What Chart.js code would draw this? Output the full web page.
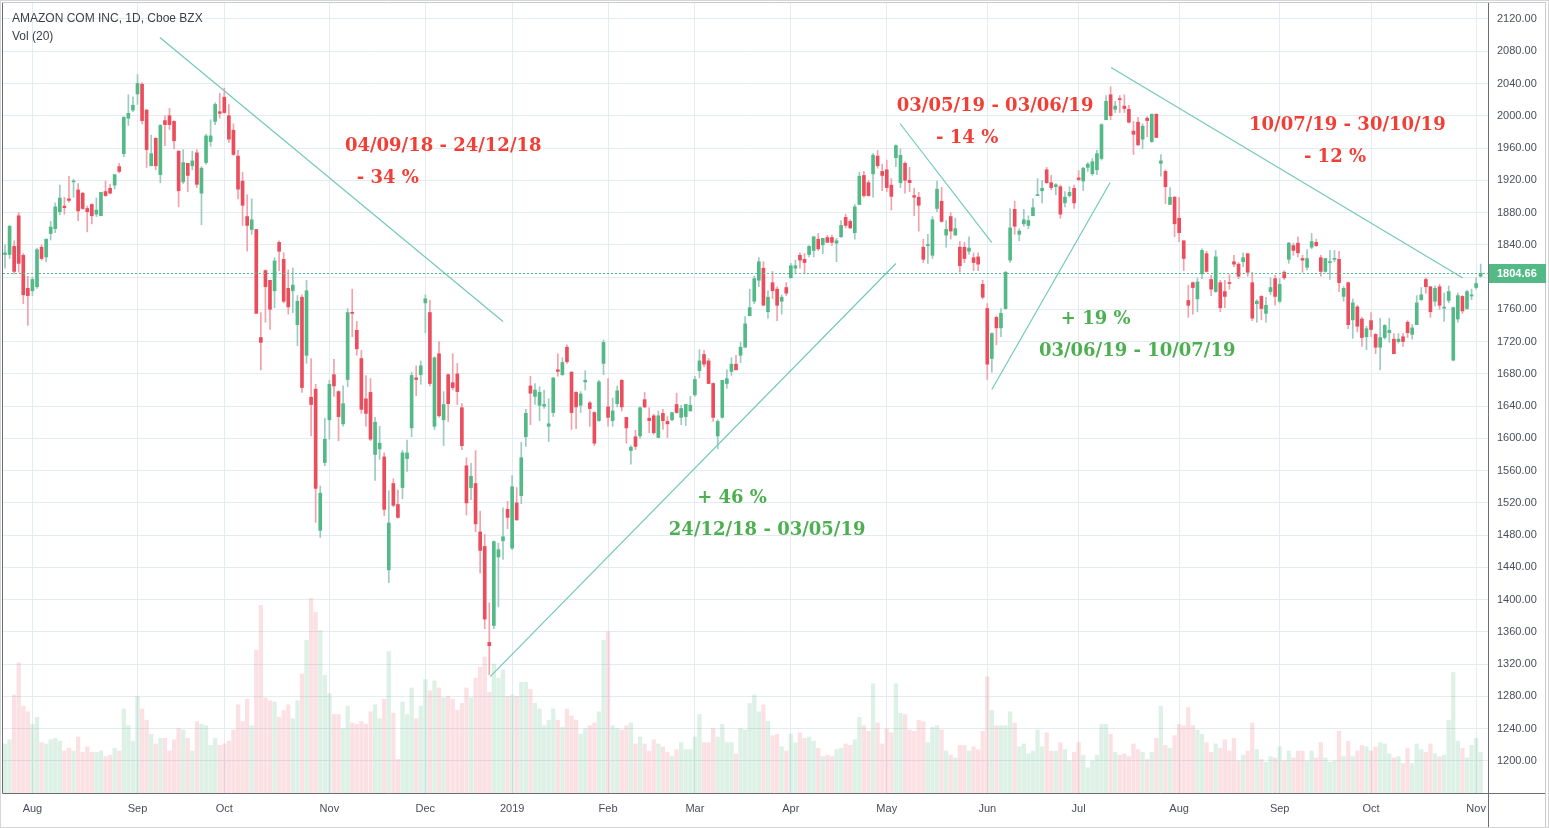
<!DOCTYPE html>
<html><head><meta charset="utf-8">
<script src="https://cdn.jsdelivr.net/npm/chart.js@4.4.1/dist/chart.umd.min.js"></script>
<style>html,body{margin:0;padding:0;background:#fff;}#wrap{position:relative;width:1549px;height:828px;}</style>
</head><body><div id="wrap"><canvas id="c" width="1549" height="828"></canvas></div>
<script>
// Daily candles 24 Jul 2018 .. 4 Nov 2019 (index 0 = first bar)
const open=[
1828,1828,1838,1876,1827,1786,1783,1788,1837,1825,
1854,1860,1881,1888,1897,1918,1908,1904,1885,1890,
1878,1876,1906,1910,1914,1937,1953,1997,2007,2027,
2039,2007,1938,1972,1927,1994,2000,1993,1956,1918,
1941,1938,1954,1904,1942,1968,1993,2005,2023,2000,
1982,1950,1919,1875,1859,1859,1725,1808,1796,1783,
1843,1822,1786,1783,1741,1775,1703,1651,1661,1486,
1570,1623,1679,1658,1618,1673,1756,1734,1699,1649,
1657,1580,1587,1577,1437,1544,1518,1539,1575,1613,
1675,1679,1768,1756,1615,1705,1623,1679,1669,1680,
1638,1566,1539,1544,1484,1466,1347,1368,1453,1473,
1512,1464,1520,1529,1602,1665,1652,1641,1640,1615,
1632,1685,1679,1713,1682,1657,1641,1670,1644,1632,
1622,1693,1639,1622,1643,1672,1626,1585,1602,1603,
1648,1625,1628,1601,1631,1621,1623,1642,1626,1627,
1634,1654,1684,1704,1696,1668,1603,1626,1668,1683,
1692,1703,1713,1752,1770,1796,1811,1757,1793,1785,
1770,1787,1799,1811,1827,1822,1828,1833,1847,1840,
1849,1849,1842,1850,1874,1869,1855,1890,1926,1917,
1928,1950,1931,1933,1914,1948,1917,1941,1920,1901,
1899,1837,1839,1827,1885,1894,1852,1875,1852,1837,
1837,1832,1824,1825,1791,1761,1699,1750,1737,1761,
1821,1884,1853,1866,1864,1876,1901,1907,1933,1917,
1912,1912,1892,1901,1910,1923,1919,1936,1928,1933,
1947,1995,2026,2008,2021,2012,2008,1981,1992,1971,
1997,1968,2002,1941,1931,1890,1899,1873,1845,1771,
1793,1773,1804,1829,1797,1782,1793,1782,1793,1819,
1816,1819,1829,1793,1767,1776,1755,1782,1798,1770,
1806,1822,1839,1842,1823,1812,1837,1843,1824,1807,
1818,1822,1822,1776,1793,1747,1763,1748,1726,1746,
1729,1713,1725,1731,1723,1720,1726,1744,1729,1741,
1772,1797,1788,1770,1788,1761.5,1771,1697,1748,1776,
1761,1776.5,1787,1801];
const high=[
1840,1864,1845,1880,1829,1801,1800,1836,1840,1847,
1869,1892,1914,1899,1925,1921,1916,1905,1888,1891,
1898,1905,1919,1915,1927,1941,1999,2026,2023,2051,
2041,2008,1976,1973,1989,2000,2009,1994,1957,1958,
1941,1956,1958,1937,1977,1995,2016,2028,2034,2014,
1990,1957,1930,1902,1897,1859,1756,1809,1796,1824,
1845,1830,1809,1811,1777,1778,1796,1699,1667,1541,
1625,1672,1698,1659,1665,1761,1785,1745,1709,1678,
1674,1626,1615,1582,1535,1550,1536,1585,1598,1682,
1690,1696,1778,1771,1701,1720,1658,1680,1705,1693,
1643,1576,1569,1585,1510,1481,1396,1473,1470,1514,
1522,1554,1539,1595,1636,1677,1668,1664,1660,1649,
1675,1705,1700,1716,1683,1658,1658,1684,1646,1633,
1672,1722,1674,1650,1665,1673,1626,1591,1610,1639,
1657,1638,1630,1634,1636,1627,1632,1656,1641,1642,
1652,1677,1710,1709,1699,1669,1623,1672,1685,1700,
1703,1719,1751,1785,1801,1824,1819,1783,1807,1788,
1778,1793,1817,1821,1830,1829,1839,1850,1854,1848,
1852,1852,1848,1870,1878,1871,1890,1930,1931,1920,
1953,1957,1940,1945,1922,1964,1959,1943,1936,1910,
1905,1847,1853,1875,1919,1911,1870,1880,1873,1844,
1843,1850,1830,1830,1796,1767,1731,1752,1761,1807,
1885,1894,1860,1884,1876,1897,1922,1920,1936,1926,
1916,1914,1906,1912,1914,1932,1936,1942,1947,1957,
1990,2025,2036,2018,2025,2026,2013,1993,1998,1990,
1999,2002,2002,1952,1933,1911,1900,1899,1845,1790,
1794,1799,1835,1832,1802,1833,1796,1796,1803,1827,
1818,1830,1829,1806,1772,1777,1775,1799,1802,1798,
1808,1843,1842,1850,1827,1834,1854,1847,1827,1823,
1833,1833,1832,1788,1794,1773,1765,1750,1739,1756,
1730,1749,1741,1749,1730,1730,1730,1746,1741,1777,
1787,1799,1788,1789,1791,1780,1789,1763,1780,1777,
1784,1785,1799,1816];
const low=[
1811,1823,1804,1806,1767,1740,1777,1786,1821,1819,
1846,1855,1877,1878,1893,1899,1870,1884,1856,1866,
1875,1876,1900,1903,1909,1929,1949,1988,2005,2014,
1990,1936,1938,1933,1917,1963,1983,1959,1887,1916,
1906,1933,1911,1865,1940,1962,1989,1997,2003,1967,
1951,1897,1864,1832,1853,1755,1685,1744,1735,1762,
1808,1768,1754,1756,1715,1657,1693,1603,1496,1477,
1566,1599,1652,1597,1615,1664,1726,1703,1631,1615,
1597,1548,1574,1504,1421,1515,1501,1525,1559,1602,
1653,1667,1731,1665,1611,1626,1591,1621,1660,1642,
1586,1505,1524,1484,1433,1364,1307,1364,1391,1450,
1488,1462,1498,1519,1590,1617,1642,1622,1637,1596,
1627,1677,1678,1693,1611,1612,1632,1660,1615,1591,
1621,1679,1615,1615,1639,1634,1594,1568,1586,1600,
1638,1607,1605,1601,1611,1601,1622,1631,1617,1616,
1634,1652,1675,1689,1668,1621,1587,1625,1662,1678,
1685,1694,1713,1752,1767,1788,1765,1749,1773,1746,
1754,1777,1799,1804,1811,1804,1825,1825,1833,1829,
1843,1839,1819,1849,1861,1860,1847,1890,1899,1900,
1899,1935,1907,1906,1883,1937,1911,1904,1906,1876,
1857,1818,1817,1823,1881,1868,1837,1847,1852,1806,
1818,1828,1808,1808,1773,1673,1682,1716,1726,1760,
1818,1853,1845,1863,1860,1876,1901,1892,1916,1908,
1902,1873,1887,1899,1885,1919,1907,1931,1926,1927,
1945,1995,1995,2004,2004,2004,1991,1952,1963,1959,
1974,1967,1973,1925,1891,1890,1850,1844,1808,1750,
1754,1757,1798,1806,1777,1781,1757,1762,1785,1813,
1798,1813,1801,1746,1744,1747,1744,1778,1765,1768,
1797,1817,1827,1825,1806,1809,1835,1838,1801,1806,
1797,1819,1782,1770,1736,1724,1732,1714,1710,1726,
1705,1685,1723,1719,1705,1718,1714,1725,1723,1741,
1771,1780,1750,1764,1760,1745,1768,1696,1744,1755,
1760,1772,1785,1800];
const close=[
1830,1863,1807,1817,1778,1777,1797,1834,1823,1847,
1862,1887,1898,1886,1895,1919,1882,1885,1881,1876,
1883,1905,1901,1904,1927,1931,1998,2003,2013,2040,
1994,1958,1953,1938,1988,1989,1989,1969,1907,1942,
1926,1944,1915,1935,1975,1975,2014,2003,2004,1971,
1952,1909,1889,1864,1871,1755,1719,1788,1760,1820,
1832,1770,1763,1790,1770,1663,1783,1642,1538,1532,
1599,1667,1665,1627,1643,1756,1755,1711,1636,1631,
1599,1620,1594,1512,1495,1517,1502,1582,1582,1678,
1673,1690,1773,1668,1700,1628,1642,1643,1663,1658,
1591,1520,1553,1494,1461,1376,1343,1472,1462,1478,
1502,1540,1499,1576,1631,1656,1660,1657,1642,1618,
1675,1683,1694,1695,1632,1639,1655,1672,1637,1594,
1670,1719,1626,1634,1659,1639,1613,1589,1590,1638,
1639,1622,1607,1628,1622,1618,1632,1632,1637,1642,
1641,1673,1696,1692,1668,1626,1621,1672,1674,1692,
1685,1713,1742,1762,1798,1819,1765,1775,1783,1765,
1775,1780,1814,1814,1821,1818,1838,1850,1835,1848,
1843,1843,1845,1864,1864,1861,1887,1925,1901,1901,
1951,1938,1926,1911,1900,1963,1951,1920,1917,1899,
1889,1822,1840,1871,1909,1869,1859,1857,1860,1814,
1823,1836,1818,1816,1775,1692,1730,1737,1755,1806,
1861,1863,1857,1871,1870,1886,1902,1910,1917,1911,
1914.5,1878,1899,1905,1892,1921,1935,1940,1943,1953,
1989,2018,2000,2012,2020,2009,1992,1977,1964,1987,
1994,2002,1973,1944,1912,1899,1866,1855,1823,1765,
1787,1794,1833,1807,1785,1825,1762,1776,1792,1816,
1801,1824,1806,1749,1770,1761,1765,1787,1776,1791,
1799,1842,1833,1830,1821,1823,1844,1839,1807,1823,
1819,1823,1793,1786,1741,1768,1739,1725,1736,1735,
1713,1725,1740,1734,1705,1723,1720,1731,1737,1768,
1778,1788,1757,1786,1765,1762.5,1782,1762,1777,1758,
1782,1778,1792,1804.66];
// volume, millions of shares
const volume=[
3.5,3.8,7.0,9.3,6.2,5.8,4.9,5.4,3.6,3.5,
3.8,3.9,3.7,3.0,3.2,3.0,4.0,2.9,3.3,2.9,
2.9,3.0,2.6,2.7,3.2,3.0,6.0,4.8,3.7,6.9,
6.0,5.2,4.2,3.5,3.9,3.9,3.0,3.8,4.6,4.5,
3.9,3.0,5.1,4.9,4.8,3.4,3.9,3.4,3.5,3.7,
4.5,6.3,5.1,6.7,4.8,10.2,13.4,6.8,6.6,6.5,
5.4,5.9,6.3,5.3,6.6,8.5,10.9,13.9,12.9,11.6,
8.4,7.1,5.6,5.6,4.6,6.2,5.0,4.9,5.1,4.9,
5.8,6.3,5.3,6.7,10.1,5.7,2.4,6.5,5.6,7.5,
5.3,6.2,8.1,7.3,8.0,7.5,6.8,6.9,6.7,5.9,
6.4,7.5,6.8,8.2,9.0,9.7,7.2,9.2,8.2,8.8,
6.9,7.0,6.9,7.9,7.9,7.4,6.4,6.0,4.8,5.2,
6.0,5.2,4.7,6.0,5.5,5.2,4.2,4.6,4.8,5.0,
5.8,10.9,11.5,4.8,4.6,4.5,4.8,5.0,3.5,4.0,
3.5,3.0,3.8,3.5,3.3,2.9,2.6,3.1,3.6,3.1,
3.1,4.0,5.6,3.6,3.6,4.6,4.0,4.9,3.6,3.6,
2.8,4.6,4.5,6.4,7.0,5.8,6.3,5.1,4.1,4.2,
3.3,3.0,4.2,3.6,4.3,3.9,4.0,3.7,3.2,2.6,
2.7,2.6,3.1,3.2,3.5,3.4,3.8,5.4,4.8,4.4,
7.8,5.0,3.5,4.6,4.3,7.8,5.7,5.6,4.5,4.4,
5.2,5.1,3.6,4.7,4.8,4.5,3.0,2.7,2.5,3.4,
3.4,3.0,3.3,3.1,4.4,8.3,5.9,4.8,4.8,4.8,
5.8,5.0,3.3,3.5,2.8,3.0,4.5,3.3,4.3,3.0,
3.0,3.6,3.1,2.3,2.9,3.6,2.7,1.8,2.3,2.7,
4.9,4.9,4.2,2.9,2.7,2.8,2.6,3.5,3.1,2.9,
2.4,2.9,3.9,6.2,3.4,3.2,4.1,4.9,4.8,6.1,
4.8,4.5,4.2,3.6,2.9,3.5,3.2,3.8,3.0,3.9,
2.3,2.7,3.0,5.0,3.1,2.4,2.2,2.6,2.5,3.3,
2.3,3.0,2.5,3.0,3.0,2.3,3.0,2.5,3.6,2.5,
2.2,2.3,4.4,2.6,3.7,2.6,3.0,3.4,3.3,3.0,
3.3,3.6,3.5,2.8,2.5,2.6,2.1,3.2,2.1,3.5,
3.1,2.9,3.5,2.8,2.6,2.7,5.2,8.6,3.7,3.2,
2.5,3.4,3.9,2.9];
const monthTickIndex=[6,29,48,71,92,111,132,151,172,193,215,235,257,279,299,322];
const monthTickLabels=['Aug','Sep','Oct','Nov','Dec','2019','Feb','Mar','Apr','May','Jun','Jul','Aug','Sep','Oct','Nov'];
const priceTicks=[2120,2080,2040,2000,1960,1920,1880,1840,1800,1760,1720,1680,1640,1600,1560,1520,1480,1440,1400,1360,1320,1280,1240,1200];
const lastPrice=1804.66;
// trend lines: [index1, price1, index2, price2]
const trendLines=[[33.9,2097,109.0,1744.8],[106.2,1304.5,195.0,1816.8],[195.9,1990.4,216.0,1842.8],[216.0,1660.5,241.9,1917.2],[242.1,2059.8,319.1,1798.9]];
const noteTexts=['04/09/18 - 24/12/18','- 34 %','03/05/19 - 03/06/19','- 14 %','10/07/19 - 30/10/19','- 12 %','+ 46 %','24/12/18 - 03/05/19','+ 19 %','03/06/19 - 10/07/19'];
const noteIndex=[74.4,77.0,195.2,203.8,272.3,284.3,151.5,145.3,231.1,226.3];
const notePrice=[1961.9,1922.2,2011.5,1971.8,1987.9,1948.2,1525.3,1485.6,1747.3,1707.6];
const noteUp=[false,false,false,false,false,false,true,true,true,true];

const UP='#53b987', DOWN='#eb4d5c';
const isUp=close.map((c,i)=>c>=open[i]);
const idx=close.map((_,i)=>i);

const extras={
  id:'extras',
  afterDatasetsDraw(chart){
    const {ctx,chartArea:a,scales:{x,y}}=chart;
    ctx.save();
    ctx.beginPath();ctx.rect(a.left,a.top,a.right-a.left,a.bottom-a.top);ctx.clip();
    ctx.strokeStyle='#74c9b8';ctx.lineWidth=1.2;
    trendLines.forEach(t=>{
      ctx.beginPath();
      ctx.moveTo(x.getPixelForValue(t[0]),y.getPixelForValue(t[1]));
      ctx.lineTo(x.getPixelForValue(t[2]),y.getPixelForValue(t[3]));
      ctx.stroke();
    });
    const ly=Math.round(y.getPixelForValue(lastPrice))+0.5;
    ctx.setLineDash([2,2]);ctx.strokeStyle=UP;ctx.lineWidth=1;
    ctx.beginPath();ctx.moveTo(a.left,ly);ctx.lineTo(a.right,ly);ctx.stroke();
    ctx.setLineDash([]);
    ctx.font='bold 18px "DejaVu Serif"';ctx.textBaseline='middle';ctx.textAlign='left';
    noteTexts.forEach((t,i)=>{
      ctx.fillStyle=noteUp[i]?'#4caf50':'#f23f36';
      ctx.fillText(t,x.getPixelForValue(noteIndex[i]),y.getPixelForValue(notePrice[i]));
    });
    ctx.restore();
  },
  afterDraw(chart){
    const {ctx,chartArea:a,scales:{y}}=chart;
    ctx.save();
    ctx.strokeStyle='#d6d6d6';ctx.lineWidth=1;
    ctx.strokeRect(0.5,0.5,chart.width-1,chart.height-1);
    ctx.strokeStyle='#6b6e78';
    ctx.beginPath();
    ctx.moveTo(a.left-0.5,a.top-0.5);ctx.lineTo(a.left-0.5,a.bottom+0.5);
    ctx.moveTo(a.right+0.5,a.top-0.5);ctx.lineTo(a.right+0.5,chart.height-1);
    ctx.moveTo(a.left-0.5,a.bottom+0.5);ctx.lineTo(chart.width-3,a.bottom+0.5);
    ctx.stroke();
    ctx.strokeStyle='#c8cbd2';
    ctx.beginPath();ctx.moveTo(a.left-0.5,a.top-0.5);ctx.lineTo(chart.width-3,a.top-0.5);
    ctx.moveTo(chart.width-3.5,a.top-0.5);ctx.lineTo(chart.width-3.5,chart.height-1);ctx.stroke();
    const ly=Math.round(y.getPixelForValue(lastPrice));
    ctx.fillStyle=UP;ctx.fillRect(a.right+1,ly-9,chart.width-a.right-4,19);
    ctx.fillStyle='#fff';ctx.font='bold 11px "Liberation Sans"';ctx.textAlign='left';ctx.textBaseline='middle';
    ctx.fillText(lastPrice.toFixed(2),a.right+9,ly+1);
    ctx.fillStyle='#3b3f4a';ctx.font='12px "Liberation Sans"';
    ctx.fillText('AMAZON COM INC, 1D, Cboe BZX',12,19);
    ctx.fillText('Vol (20)',12,37);
    ctx.restore();
  }
};

new Chart(document.getElementById('c'),{
  type:'bar',
  data:{datasets:[
    {label:'body',order:0,grouped:false,barThickness:3,minBarLength:1,
     data:idx.map(i=>({x:i,y:[open[i],close[i]]})),
     backgroundColor:isUp.map(u=>u?UP:DOWN),borderWidth:0,yAxisID:'y'},
    {label:'wick',order:1,grouped:false,barThickness:1,
     data:idx.map(i=>({x:i,y:[low[i],high[i]]})),
     backgroundColor:isUp.map(u=>u?'#9ccbc2':'#f3a1aa'),borderWidth:0,yAxisID:'y'},
    {label:'vol',order:2,grouped:false,barThickness:3.6,
     data:idx.map(i=>({x:i,y:volume[i]})),
     backgroundColor:isUp.map(u=>u?'rgba(83,185,135,0.2)':'rgba(235,77,92,0.17)'),borderWidth:0,yAxisID:'yv'}
  ]},
  options:{
    responsive:false,animation:false,
    layout:{padding:{left:3,top:3,right:0,bottom:0}},
    plugins:{legend:{display:false},tooltip:{enabled:false}},
    scales:{
      x:{type:'linear',min:-0.44,max:324.6,offset:false,
        grid:{color:'#e3ecf2',drawTicks:false,offset:false},border:{display:false},
        afterBuildTicks:s=>{s.ticks=monthTickIndex.map(v=>({value:v}));},
        afterFit:s=>{s.height=35;s.paddingLeft=0;s.paddingRight=0;s.paddingTop=0;s.paddingBottom=0;},
        ticks:{autoSkip:false,maxRotation:0,padding:9,color:'#4a4e58',font:{family:'Liberation Sans',size:11},
          callback:(v,i)=>monthTickLabels[i]}},
      y:{type:'linear',position:'right',min:1160.3,max:2139.8,
        grid:{color:'#e3ecf2',drawTicks:false},border:{display:false},
        afterBuildTicks:s=>{s.ticks=priceTicks.map(v=>({value:v}));},
        afterFit:s=>{s.width=61;s.paddingTop=0;s.paddingBottom=0;s.paddingLeft=0;s.paddingRight=0;},
        ticks:{padding:9,color:'#4a4e58',font:{family:'Liberation Sans',size:11},callback:v=>Number(v).toFixed(2)}},
      yv:{type:'linear',display:false,min:0,max:56.4}
    }
  },
  plugins:[extras]
});
</script></body></html>
